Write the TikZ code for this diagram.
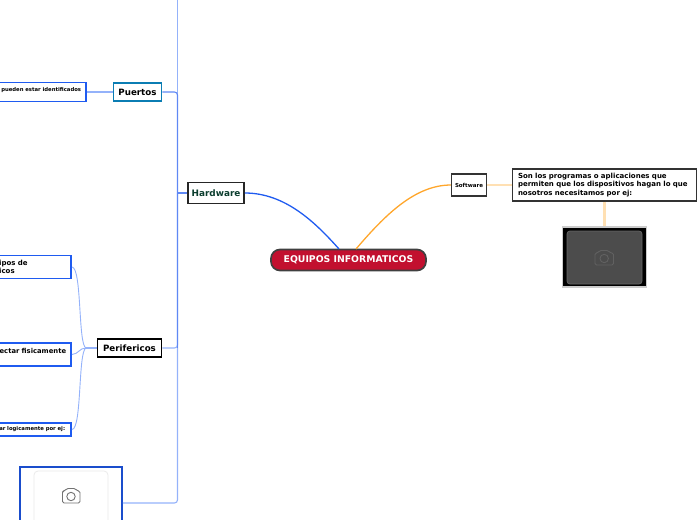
\documentclass[tikz,border=0pt]{standalone}
\usepackage{fontspec}
\setmainfont{DejaVu Sans}
\definecolor{rootred}{HTML}{C2102F}
\definecolor{blueline}{HTML}{1F5BF0}
\definecolor{paleblue}{HTML}{94B2FA}
\definecolor{midblue}{HTML}{5F88F4}
\definecolor{tealline}{HTML}{0B7DB3}
\definecolor{darkgreen}{HTML}{0B3D2E}
\definecolor{orangeline}{HTML}{FFA62B}
\definecolor{paleorange}{HTML}{FFE0B3}
\tikzset{
  box/.style={draw=black, fill=white, line width=1.7pt, inner sep=0pt, font=\bfseries},
  leaf/.style={box, draw=blueline, anchor=east, align=right},
  link/.style={draw=paleblue, line width=1.1pt, rounded corners=3pt},
  softlink/.style={draw=paleorange, line width=2.2pt},
  cambody/.style={line width=.9pt, rounded corners=1.5pt}
}
\begin{document}
\begin{tikzpicture}[x=1pt,y=-1pt]
\useasboundingbox (0,0) rectangle (697,520);
\clip (0,0) rectangle (697,520);
\node[box, draw=black!75, fill=rootred, text=white, rounded corners=9pt, minimum width=155pt, minimum height=21pt, font=\bfseries\fontsize{9.3}{11}\selectfont] (root) at (348.5,260) {EQUIPOS INFORMATICOS};
\node[box, draw=black!85, text=darkgreen, minimum width=56pt, minimum height=21pt, font=\bfseries\fontsize{8.9}{10}\selectfont] (hardware) at (216,193) {Hardware};
\node[box, draw=black!80, line width=1.1pt, minimum width=35pt, minimum height=22pt, font=\bfseries\fontsize{5.5}{7}\selectfont] (software) at (469,185) {Software};
\node[box, draw=black!80, minimum width=184pt, minimum height=32pt, text width=173pt, align=left, font=\bfseries\fontsize{7}{8.7}\selectfont] (softtext) at (604.5,185) {Son los programas o aplicaciones que\\permiten que los dispositivos hagan lo que\\nosotros necesitamos por ej:};
\node[box, draw=black!20, fill=black, line width=1.4pt, minimum width=84pt, minimum height=60pt] (softphoto) at (604.5,257) {};
\node[draw=black!60, fill=black!70, line width=.8pt, rounded corners=3pt, minimum width=75pt, minimum height=53pt, inner sep=0pt] (softinner) at (604.5,257.5) {};
\node[box, draw=tealline, minimum width=48pt, minimum height=18pt, font=\bfseries\fontsize{8.7}{10}\selectfont] (puertos) at (137.5,92) {Puertos};
\node[box, minimum width=64pt, minimum height=18pt, font=\bfseries\fontsize{8.7}{10}\selectfont] (perifericos) at (129.5,348) {Perifericos};
\node[leaf, minimum height=19pt, text width=100pt, minimum width=110pt, font=\bfseries\fontsize{5.3}{6}\selectfont] (leafa) at (87,92) {\raisebox{1pt}[0pt][0pt]{pueden estar identificados}};
\node[leaf, minimum width=90pt, minimum height=23pt, text width=90pt, align=left, font=\bfseries\fontsize{7}{8}\selectfont] (leafb) at (72,267) {\hspace*{18pt}ipos de\\\hspace*{18pt}icos};
\node[leaf, minimum width=90pt, minimum height=23pt, text width=80pt, font=\bfseries\fontsize{6.8}{8.4}\selectfont] (leafc) at (72,354.5) {\raisebox{1.2pt}[0pt][0pt]{ectar fisicamente}};
\node[leaf, minimum width=90pt, minimum height=13pt, text width=78pt, font=\bfseries\fontsize{5.3}{6}\selectfont] (leafd) at (72,429.5) {ar logicamente por ej:};
\node[box, draw=blueline!85!black, minimum width=102pt, minimum height=70pt] (photo) at (71,502) {};
\node[draw=black!8, fill=white, line width=.8pt, rounded corners=4pt, minimum width=74pt, minimum height=60pt, inner sep=0pt] (inner) at (71,501) {};
\coordinate (rootl) at (339,249);
\coordinate (rootr) at (356,249);
\coordinate (trunk) at (177.5,193);
\coordinate (topend) at (177.5,0);
\coordinate (hub) at (86,348);
% trunk and branches
\draw[link] (trunk) -- (topend);
\draw[link] (perifericos.east) -| (trunk);
\draw[link] (photo.east |- 0,503) -| (trunk);
\draw[link, draw=midblue] (puertos.east) -| (trunk);
\draw[link, draw=midblue] (perifericos.east -| trunk) -- (trunk);
\draw[draw=midblue, line width=2pt] (hardware.west) -- (trunk);
\draw[link] (puertos.west) -- (leafa.east);
\draw[link] (perifericos.west) -- (hub);
\draw[link, line width=.9pt] (leafb.east) .. controls (82,268) and (78,345) .. (hub);
\draw[link, line width=.9pt] (leafc.east) .. controls (79,354) and (79,348) .. (hub);
\draw[link, line width=.9pt] (leafd.east) .. controls (82,429) and (78,351) .. (hub);
% center curves
\draw[draw=blueline, line width=1.3pt] (hardware.east) .. controls (285,193) and (315,222) .. (rootl);
\draw[draw=orangeline, line width=1.3pt] (software.west) .. controls (415,185) and (385,215) .. (rootr);
\draw[softlink] (software.east) -- (softtext.west);
\draw[softlink] (softtext.south -| softphoto) -- (softphoto.north);
% camera icons
\draw[cambody, draw=black!55] (62.5,491) -- (65,491) -- (66.5,488.5) -- (75.5,488.5) -- (77,491) -- (80,491) -- (80,503) -- (62.5,503) -- cycle;
\draw[draw=black!55, line width=.9pt] (71,496.5) circle (4.2pt);
\draw[cambody, draw=black!62] (595,253) -- (598,253) -- (599.5,250.5) -- (608.5,250.5) -- (610,253) -- (613.5,253) -- (613.5,265) -- (595,265) -- cycle;
\draw[draw=black!62, line width=.9pt] (604.2,258.5) circle (4.2pt);
\end{tikzpicture}
\end{document}
